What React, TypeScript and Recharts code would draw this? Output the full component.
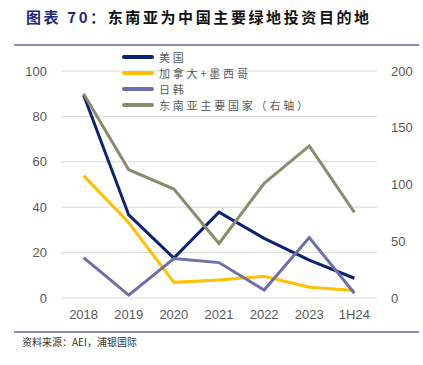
import React from "react";
import { LineChart, Line, XAxis, YAxis, CartesianGrid } from "recharts";

const categories = ["2018", "2019", "2020", "2021", "2022", "2023", "1H24"];
const usValues = [89.4, 36.6, 17.6, 37.8, 26.3, 16.7, 8.7];
const canMexValues = [53.9, 33.2, 6.9, 7.9, 9.6, 4.7, 3.3];
const japanKoreaValues = [17.8, 1.3, 17.4, 15.6, 3.5, 26.6, 2.1];
const seAsiaValues = [180, 113, 96, 48, 101, 134, 75.5];

const leftTicks = [0, 20, 40, 60, 80, 100];
const rightTicks = [0, 50, 100, 150, 200];

const seriesNames = ["美国", "加拿大+墨西哥", "日韩", "东南亚主要国家（右轴）"];
const seriesColors = ["#0A2472", "#FFC000", "#6E6EAA", "#8C8C6C"];

const data = categories.map((c, i) => ({
  name: c,
  us: usValues[i],
  cm: canMexValues[i],
  jk: japanKoreaValues[i],
  sea: seAsiaValues[i],
}));

const tickStyle = { fontFamily: "'Liberation Sans', Arial, sans-serif", fontSize: 13, fill: "#595959" };

export default function App() {
  return (
    <div style={{ position: "absolute", left: 0, top: 0, width: 423, height: 365, background: "#fff", overflow: "hidden" }}>
      <div
        style={{
          position: "absolute",
          left: 26,
          top: 6,
          whiteSpace: "nowrap",
          fontFamily: "'Noto Sans CJK SC', sans-serif",
          fontSize: 15,
          fontWeight: 700,
          letterSpacing: 2.6,
          lineHeight: "22px",
        }}
      >
        <span style={{ color: "#1F2A7A" }}>图表 70：</span>
        <span style={{ color: "#111" }}>东南亚为中国主要绿地投资目的地</span>
      </div>
      <div style={{ position: "absolute", left: 14, top: 44, width: 405, height: 2, background: "#8E8CB8" }} />
      <div style={{ position: "absolute", left: 14, top: 331, width: 405, height: 1.5, background: "#8E8CB8" }} />
      <div
        style={{
          position: "absolute",
          left: 22,
          top: 335,
          whiteSpace: "nowrap",
          fontFamily: "'Noto Sans CJK SC', sans-serif",
          fontSize: 10,
          color: "#333",
          lineHeight: "14px",
        }}
      >
        资料来源：AEI，浦银国际
      </div>
      <div style={{ position: "absolute", left: 0, top: 0 }}>
        <LineChart width={423} height={365} data={data} margin={{ top: 71, right: 0, bottom: 37, left: 0 }}>
          <CartesianGrid yAxisId="left" vertical={false} stroke="#D9D9D9" strokeWidth={1} />
          <XAxis
            dataKey="name"
            axisLine={false}
            tickLine={false}
            tickMargin={6}
            height={30}
            padding={{ left: 22.6, right: 22.6 }}
            tick={tickStyle}
            interval={0}
          />
          <YAxis
            yAxisId="left"
            orientation="left"
            width={61}
            domain={[0, 100]}
            ticks={leftTicks}
            axisLine={false}
            tickLine={false}
            tickMargin={8}
            tick={tickStyle}
          />
          <YAxis
            yAxisId="right"
            orientation="right"
            width={46}
            domain={[0, 200]}
            ticks={rightTicks}
            axisLine={false}
            tickLine={false}
            tickMargin={8}
            tick={{ ...tickStyle, textAnchor: "start" }}
          />
          <Line yAxisId="left" type="linear" dataKey="us" stroke={seriesColors[0]} strokeWidth={3} dot={false} isAnimationActive={false} />
          <Line yAxisId="left" type="linear" dataKey="cm" stroke={seriesColors[1]} strokeWidth={3} dot={false} isAnimationActive={false} />
          <Line yAxisId="left" type="linear" dataKey="jk" stroke={seriesColors[2]} strokeWidth={3} dot={false} isAnimationActive={false} />
          <Line yAxisId="right" type="linear" dataKey="sea" stroke={seriesColors[3]} strokeWidth={3} dot={false} isAnimationActive={false} />
        </LineChart>
      </div>
      {seriesNames.map((n, i) => (
        <div key={n} style={{ position: "absolute", left: 122, top: 49 + i * 16, height: 16, display: "flex", alignItems: "center" }}>
          <div style={{ width: 32, height: 4, borderRadius: 2, background: seriesColors[i] }} />
          <span
            style={{
              marginLeft: 5,
              fontFamily: "'Noto Sans CJK SC', sans-serif",
              fontSize: 11,
              letterSpacing: 2.8,
              color: "#595959",
              whiteSpace: "nowrap",
              lineHeight: "15px",
            }}
          >
            {n}
          </span>
        </div>
      ))}
    </div>
  );
}
